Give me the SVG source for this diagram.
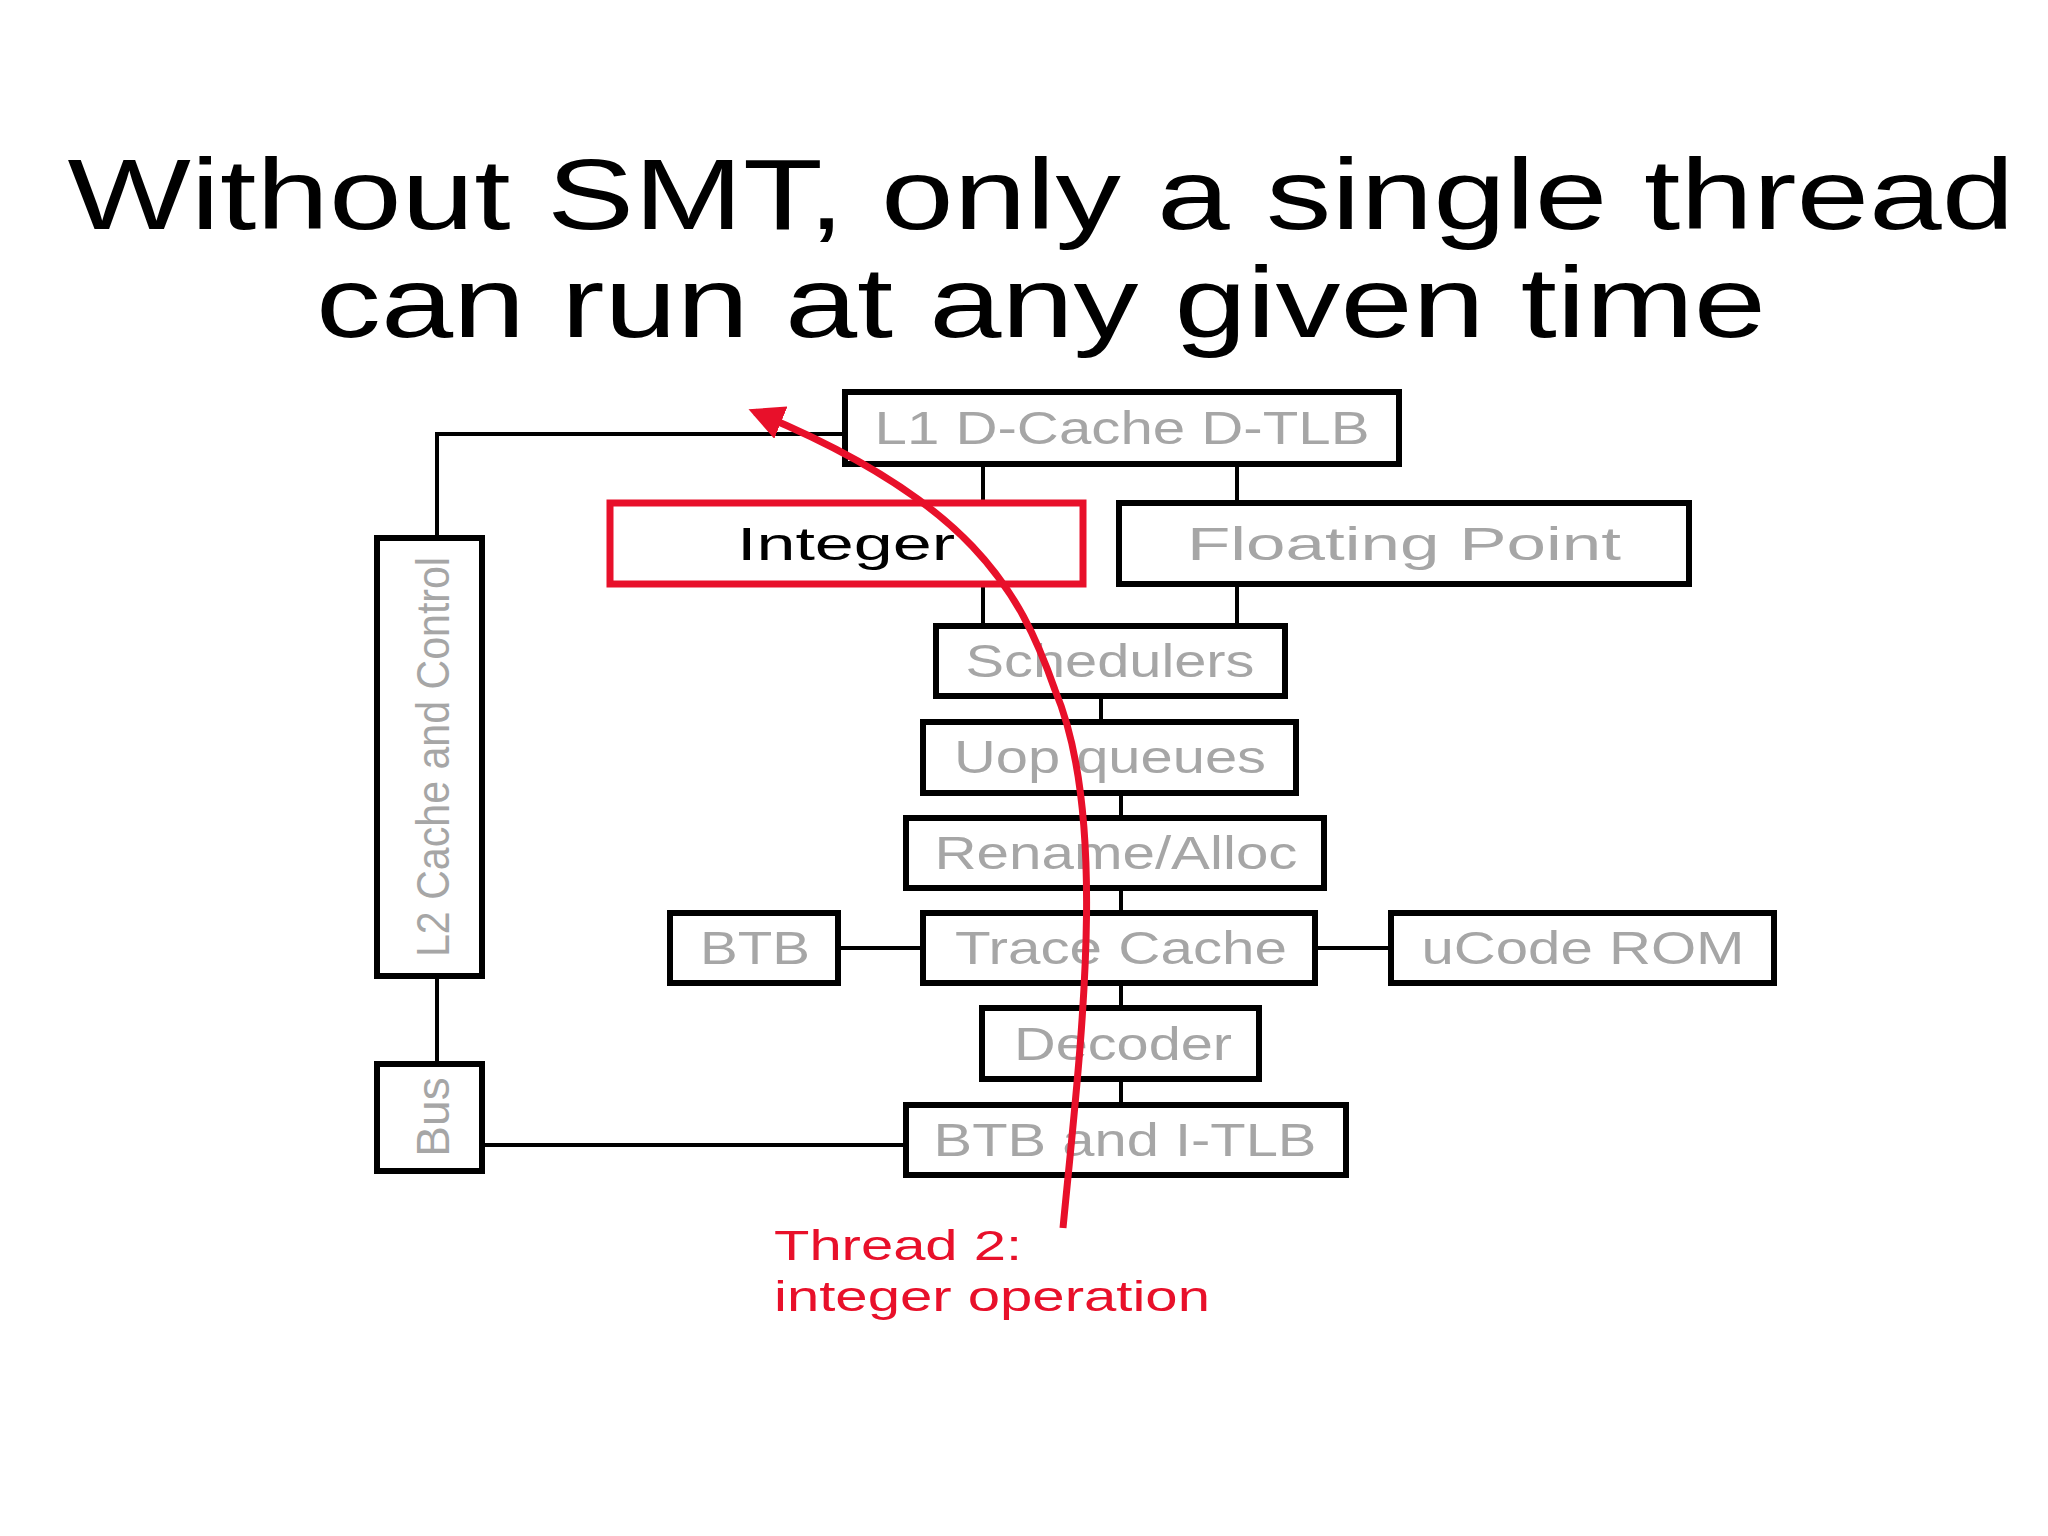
<svg xmlns="http://www.w3.org/2000/svg" width="2048" height="1536" viewBox="0 0 2048 1536">
<style>
.b{fill:#fff;stroke:#000;stroke-width:6}
.t{font-family:"Liberation Sans",Arial,sans-serif;font-size:46px;fill:#a6a6a6;text-anchor:middle}
.c{stroke:#000;stroke-width:4;fill:none}
</style>
<defs><marker id="a" viewBox="0 0 10 10" refX="8" refY="5" markerWidth="5" markerHeight="5" orient="auto"><path d="M0,0L10,5L0,10z" fill="#e8102a"/></marker></defs>
<rect width="2048" height="1536" fill="#fff"/>
<g id="title" font-family="Liberation Sans,Arial,sans-serif" font-size="100" text-anchor="middle" fill="#000">
<text x="1041" y="229" textLength="1947" lengthAdjust="spacingAndGlyphs">Without SMT, only a single thread</text>
<text x="1041" y="337" textLength="1450" lengthAdjust="spacingAndGlyphs">can run at any given time</text>
</g>
<g id="connectors">
<polyline class="c" points="845,434 437,434 437,538"/>
<line class="c" x1="437" y1="976" x2="437" y2="1064"/>
<line class="c" x1="482" y1="1145" x2="906" y2="1145"/>
<line class="c" x1="983" y1="464" x2="983" y2="503"/>
<line class="c" x1="1237" y1="464" x2="1237" y2="503"/>
<line class="c" x1="983" y1="584" x2="983" y2="626"/>
<line class="c" x1="1237" y1="584" x2="1237" y2="626"/>
<line class="c" x1="1101" y1="696" x2="1101" y2="722"/>
<line class="c" x1="1121" y1="793" x2="1121" y2="818"/>
<line class="c" x1="1121" y1="888" x2="1121" y2="913"/>
<line class="c" x1="1121" y1="983" x2="1121" y2="1008"/>
<line class="c" x1="1121" y1="1079" x2="1121" y2="1105"/>
<line class="c" x1="838" y1="948" x2="923" y2="948"/>
<line class="c" x1="1315" y1="948" x2="1391" y2="948"/>
</g>
<g id="l1"><rect class="b" x="845" y="392" width="554" height="72"/><text class="t" x="1122" y="444" textLength="495" lengthAdjust="spacingAndGlyphs">L1 D-Cache D-TLB</text></g>
<g id="integer"><rect x="610" y="503" width="473" height="81" fill="#fff" stroke="#e8102a" stroke-width="7"/><text class="t" x="846" y="560" style="fill:#000" textLength="218" lengthAdjust="spacingAndGlyphs">Integer</text></g>
<g id="fp"><rect class="b" x="1119" y="503" width="570" height="81"/><text class="t" x="1404" y="560" font-size="50" textLength="434" lengthAdjust="spacingAndGlyphs">Floating Point</text></g>
<g id="sched"><rect class="b" x="936" y="626" width="349" height="70"/><text class="t" x="1110" y="677" textLength="289" lengthAdjust="spacingAndGlyphs">Schedulers</text></g>
<g id="uop"><rect class="b" x="923" y="722" width="373" height="71"/><text class="t" x="1110" y="773" textLength="312" lengthAdjust="spacingAndGlyphs">Uop queues</text></g>
<g id="rename"><rect class="b" x="906" y="818" width="418" height="70"/><text class="t" x="1116" y="869" textLength="363" lengthAdjust="spacingAndGlyphs">Rename/Alloc</text></g>
<g id="btb"><rect class="b" x="670" y="913" width="168" height="70"/><text class="t" x="755" y="964" textLength="110" lengthAdjust="spacingAndGlyphs">BTB</text></g>
<g id="trace"><rect class="b" x="923" y="913" width="392" height="70"/><text class="t" x="1121" y="964" textLength="332" lengthAdjust="spacingAndGlyphs">Trace Cache</text></g>
<g id="ucode"><rect class="b" x="1391" y="913" width="383" height="70"/><text class="t" x="1583" y="964" textLength="323" lengthAdjust="spacingAndGlyphs">uCode ROM</text></g>
<g id="decoder"><rect class="b" x="982" y="1008" width="277" height="71"/><text class="t" x="1123" y="1060" textLength="218" lengthAdjust="spacingAndGlyphs">Decoder</text></g>
<g id="btbitlb"><rect class="b" x="906" y="1105" width="440" height="70"/><text class="t" x="1125" y="1156" textLength="383" lengthAdjust="spacingAndGlyphs">BTB and I-TLB</text></g>
<g id="l2"><rect class="b" x="377" y="538" width="105" height="438"/><text class="t" transform="translate(449,757) rotate(-90)" textLength="400" lengthAdjust="spacingAndGlyphs">L2 Cache and Control</text></g>
<g id="bus"><rect class="b" x="377" y="1064" width="105" height="107"/><text class="t" transform="translate(449,1117) rotate(-90)">Bus</text></g>
<g id="arrow">
<path d="M1063,1228 C1080,1050 1110,820 1055,690 C1020,590 970,500 755,412" fill="none" stroke="#e8102a" stroke-width="7" marker-end="url(#a)"/>
<text font-family="Liberation Sans,Arial,sans-serif" font-size="42" fill="#e8102a"><tspan x="774" y="1260" textLength="248" lengthAdjust="spacingAndGlyphs">Thread 2:</tspan><tspan x="774" y="1311" textLength="436" lengthAdjust="spacingAndGlyphs">integer operation</tspan></text>
</g>
</svg>
